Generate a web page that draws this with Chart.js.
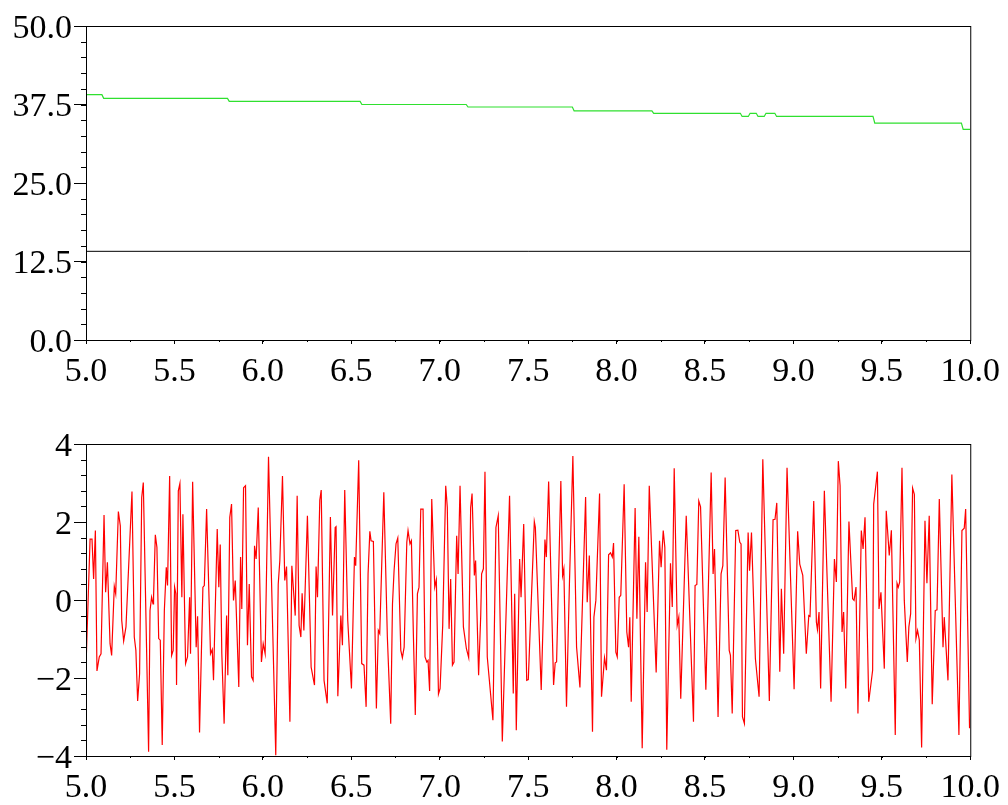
<!DOCTYPE html>
<html>
<head>
<meta charset="utf-8">
<title>Signal plots</title>
<script src="https://cdn.jsdelivr.net/npm/chart.js@4.4.1/dist/chart.umd.min.js"></script>
<style>
  html, body { margin: 0; padding: 0; background: #fff; }
  #wrap { position: relative; width: 1008px; height: 805px; }
  canvas { position: absolute; left: 0; }
  #topChart { top: 0; }
  #bottomChart { top: 400px; }
</style>
</head>
<body>
<div id="wrap">
  <canvas id="topChart" width="1008" height="400"></canvas>
  <canvas id="bottomChart" width="1008" height="405"></canvas>
</div>
<script>
// Top panel: green stepped level and flat black reference line
const levelTime = [5.0, 5.09, 5.10, 5.80, 5.81, 6.55, 6.56, 7.15, 7.16, 7.75, 7.76, 8.20, 8.21,
  8.70, 8.71, 8.745, 8.755, 8.79, 8.80, 8.835, 8.845, 8.895, 8.905, 9.45, 9.46, 9.95, 9.96, 10.0];
const levelValue = [39.06, 39.06, 38.48, 38.48, 38.0, 38.0, 37.5, 37.5, 37.1, 37.1, 36.5, 36.5, 36.1,
  36.1, 35.6, 35.6, 36.1, 36.1, 35.6, 35.6, 36.1, 36.1, 35.6, 35.6, 34.55, 34.55, 33.55, 33.55];
const refTime = [5.0, 10.0];
const refValue = [14.12, 14.12];

// Bottom panel: red oscillating signal
const signalTime = [
  5.000,5.023,5.034,5.043,5.053,5.062,5.075,5.085,5.102,5.111,
  5.121,5.136,5.145,5.160,5.168,5.183,5.194,5.202,5.213,5.226,
  5.260,5.273,5.282,5.292,5.303,5.315,5.324,5.354,5.362,5.371,
  5.379,5.382,5.392,5.401,5.411,5.420,5.431,5.443,5.454,5.461,
  5.473,5.484,5.493,5.501,5.508,5.512,5.522,5.531,5.542,5.548,
  5.563,5.574,5.586,5.591,5.603,5.623,5.631,5.642,5.661,5.669,
  5.682,5.693,5.704,5.714,5.721,5.742,5.751,5.759,5.768,5.781,
  5.795,5.802,5.813,5.823,5.834,5.844,5.864,
  5.874,5.881,5.891,5.902,5.913,5.923,5.936,5.945,5.953,5.962,
  5.974,5.992,6.002,6.013,6.032,6.073,6.087,6.096,6.111,6.124,
  6.134,6.153,6.164,6.183,6.194,6.205,6.215,6.222,6.232,6.252,
  6.273,6.292,6.301,6.309,6.322,6.330,6.346,6.364,6.382,6.394,
  6.409,6.414,6.424,6.441,6.450,6.463,6.480,6.501,6.518,6.525,
  6.542,6.559,6.572,6.584,6.595,6.605,6.612,6.625,6.642,6.653,
  6.661,6.684,
  6.704,6.723,6.733,6.742,6.753,6.763,6.780,6.789,6.799,6.814,
  6.821,6.832,6.840,6.851,6.862,6.874,6.883,6.893,6.906,6.917,
  6.927,6.934,6.943,6.955,6.972,6.981,6.993,7.002,7.017,7.034,
  7.043,7.053,7.062,7.072,7.081,7.096,7.104,7.115,7.134,7.151,
  7.164,7.175,7.183,7.196,7.203,7.220,7.232,7.237,7.247,7.256,
  7.269,7.301,7.318,7.331,7.354,7.395,7.409,7.416,7.424,7.433,
  7.452,7.460,7.475,7.492,7.501,7.535,
  7.541,7.574,7.586,7.595,7.603,7.616,7.644,7.653,7.661,7.685,
  7.695,7.702,7.717,7.734,7.753,7.774,7.793,7.825,7.834,7.846,
  7.864,7.872,7.883,7.904,7.915,7.932,7.943,7.955,7.966,7.976,
  7.983,7.996,8.004,8.015,8.024,8.043,8.058,8.068,8.075,8.083,
  8.105,8.115,8.126,8.145,8.164,8.173,8.185,8.224,8.243,8.252,
  8.264,8.273,8.284,8.305,8.315,8.326,8.343,8.352,8.363,8.394,
  8.435,8.444,8.454,8.465,8.475,8.505,8.535,8.546,8.554,8.574,
  8.591,8.601,8.614,8.637,8.644,8.654,8.674,8.686,8.697,8.704,
  8.712,8.723,8.744,8.752,8.763,8.785,8.806,8.827,8.864,8.885,
  8.896,8.906,8.923,8.932,8.945,8.964,9.004,9.024,9.036,9.053,
  9.073,9.087,9.094,9.115,9.130,9.136,9.145,9.154,9.175,9.213,
  9.232,9.243,9.254,
  9.264,9.275,9.284,9.296,9.314,9.335,9.343,9.354,9.365,9.384,
  9.394,9.405,9.426,9.448,9.454,9.475,9.484,9.495,9.514,9.525,
  9.542,9.554,9.576,9.586,9.593,9.601,9.614,9.627,9.644,9.653,
  9.663,9.674,9.684,9.693,9.702,9.712,9.725,9.744,9.755,9.768,
  9.785,9.802,9.812,9.825,9.846,9.853,9.874,9.896,9.936,9.953,
  9.966,9.974,9.996
];
const signalValue = [
  -1.72,1.56,1.56,0.54,1.78,-1.82,-1.46,-1.38,2.18,0.20,
  0.97,-1.12,-1.42,0.35,0.16,2.27,1.90,-0.52,-1.05,-0.69,
  2.78,-0.95,-1.29,-2.59,-1.89,2.63,3.01,-3.89,-0.27,0.07,
  -0.10,0.07,1.67,1.35,-0.99,-1.03,-3.72,-0.27,0.84,0.37,
  3.18,-1.42,-1.29,0.33,0.16,-2.18,2.80,2.99,0.07,2.20,
  -1.63,-1.46,0.07,-1.38,3.03,-1.21,-0.42,-3.40,0.33,0.37,
  2.33,0.50,-1.38,-1.27,-2.06,1.82,0.33,1.42,-1.38,-3.17,
  -0.40,-1.93,2.12,2.46,-0.01,0.50,-2.23,
  1.10,-0.23,2.88,2.93,-1.16,0.41,-1.97,-2.06,1.39,1.05,
  2.37,-1.59,-1.12,-1.38,3.67,-3.98,0.41,1.01,3.18,0.50,
  0.86,-3.12,0.88,-0.40,2.67,-0.65,-0.95,0.17,-0.78,2.16,
  -1.72,-2.18,0.86,0.07,2.56,2.82,-2.06,-2.65,2.13,-0.40,
  1.86,1.88,-2.47,-0.40,-1.16,2.82,-0.52,-2.27,1.10,0.88,
  3.58,-1.63,-1.67,-2.74,0.67,1.76,1.52,1.50,-2.78,-0.78,
  -0.86,2.76,
  -0.95,-3.17,-0.10,0.75,1.44,1.59,-1.29,-1.48,-1.21,1.48,
  1.78,1.44,1.52,-0.86,-2.95,0.16,0.33,2.33,2.33,-1.46,
  -1.59,-1.55,-2.33,2.59,0.33,0.52,-2.41,-2.27,-0.65,2.93,
  2.37,-0.74,0.54,-1.67,-1.59,1.65,0.67,2.93,-0.69,-1.25,
  -1.48,2.37,2.73,0.63,1.01,-1.93,-0.40,0.67,0.80,3.29,
  -1.46,-3.08,1.86,2.16,-3.63,2.67,-0.65,-2.40,0.16,-3.34,
  1.05,0.07,1.95,-2.06,-2.04,2.01,
  1.86,-2.31,-0.35,1.55,1.10,3.04,-2.18,-1.61,-1.59,3.05,
  0.63,0.80,-2.74,0.50,3.69,-1.21,-2.24,2.64,-0.06,1.14,
  -3.38,-0.44,-0.01,2.73,-2.48,-1.48,-1.80,1.16,1.21,1.10,
  1.46,-1.34,-1.46,0.07,0.12,2.97,-0.82,-1.21,-0.44,-2.61,
  2.36,-0.48,1.62,-3.80,0.97,-0.31,2.93,-1.86,1.52,0.84,
  1.78,1.35,-3.84,0.94,-0.18,3.38,-0.65,-0.44,-2.53,2.16,
  -3.12,0.37,0.40,2.54,2.39,-2.30,3.27,0.67,1.31,-3.00,
  0.67,0.88,3.14,-1.29,-1.42,-2.91,1.78,1.79,1.48,1.44,
  -3.00,-3.17,1.73,0.75,1.73,-1.50,-2.48,3.61,-2.59,2.06,
  2.07,2.49,-1.84,0.29,-1.38,3.39,-2.29,1.76,0.92,0.63,
  -1.38,-0.40,-0.42,2.54,-0.57,-0.76,-0.31,-2.27,2.80,-2.61,
  1.05,0.46,3.56,
  2.93,-0.82,-0.31,-2.27,2.01,0.03,-0.01,0.33,-2.91,1.78,
  1.31,2.12,-2.61,-1.80,2.46,3.29,-0.23,0.20,-1.76,2.29,
  1.14,1.79,-3.46,0.43,0.33,0.46,3.39,-0.01,-1.59,-0.69,
  -0.35,2.87,2.71,-0.99,-0.78,-1.03,-3.78,2.03,0.43,2.16,
  -2.67,-0.27,-0.25,2.59,-1.21,-0.44,-2.06,3.22,-3.46,1.78,
  1.84,2.33,-3.29
];

// Axis ranges and tick steps
const xRange = [5.0, 10.0];
const xMajorStep = 0.5;
const xMinorStep = 0.25;
const topRange = [0, 50];
const topMajorStep = 12.5;
const topMinorStep = 2.5;
const bottomRange = [-4, 4];
const bottomMajorStep = 2;
const bottomMinorStep = 0.4;

const tickFont = { family: "'Liberation Serif', 'Times New Roman', serif", size: 34 };

function toPoints(xs, ys) {
  return xs.map((x, i) => ({ x: x, y: ys[i] }));
}

// Draws the box round the plot and the short minor ticks
const framePlugin = {
  id: "frame",
  afterDraw(chart, args, opts) {
    const ctx = chart.ctx;
    const area = chart.chartArea;
    ctx.save();
    ctx.strokeStyle = "#000";
    ctx.lineWidth = 1;
    ctx.strokeRect(area.left + 0.5, area.top + 0.5, area.right - area.left, area.bottom - area.top);

    const xs = chart.scales.x;
    const ys = chart.scales.y;
    ctx.beginPath();
    for (let v = xs.min; v <= xs.max + 1e-9; v += opts.xMinor) {
      const px = Math.round(xs.getPixelForValue(v)) + 0.5;
      ctx.moveTo(px, area.bottom);
      ctx.lineTo(px, area.bottom + 2);
    }
    for (let v = ys.min; v <= ys.max + 1e-9; v += opts.yMinor) {
      const py = Math.round(ys.getPixelForValue(v)) + 0.5;
      ctx.moveTo(area.left - 5, py);
      ctx.lineTo(area.left, py);
    }
    ctx.stroke();
    ctx.restore();
  },
};

function makeChart(id, datasets, yRange, yStep, yMinor, yLabel, padTop, xHeight) {
  const ctx = document.getElementById(id).getContext("2d");
  return new Chart(ctx, {
    type: "line",
    data: { datasets: datasets },
    plugins: [framePlugin],
    options: {
      responsive: false,
      animation: false,
      devicePixelRatio: 1,
      layout: { padding: { top: padTop, right: 36, left: 0, bottom: 0 } },
      plugins: {
        legend: { display: false },
        tooltip: { enabled: false },
        frame: { xMinor: xMinorStep, yMinor: yMinor },
      },
      elements: { point: { radius: 0 }, line: { tension: 0, borderWidth: 1.2 } },
      scales: {
        x: {
          type: "linear",
          min: xRange[0],
          max: xRange[1],
          border: { display: true, color: "#000", width: 1 },
          grid: { display: true, drawOnChartArea: false, drawTicks: true, tickLength: 4, color: "#000" },
          ticks: {
            stepSize: xMajorStep,
            autoSkip: false,
            maxRotation: 0,
            padding: 8,
            color: "#000",
            font: tickFont,
            callback: (v) => v.toFixed(1),
          },
          afterFit: (scale) => { scale.height = xHeight; },
        },
        y: {
          type: "linear",
          min: yRange[0],
          max: yRange[1],
          border: { display: true, color: "#000", width: 1 },
          grid: { display: true, drawOnChartArea: false, drawTicks: true, tickLength: 12, color: "#000" },
          ticks: {
            stepSize: yStep,
            padding: 2,
            labelOffset: 3,
            color: "#000",
            font: tickFont,
            callback: yLabel,
          },
          afterFit: (scale) => { scale.width = 86; },
        },
      },
    },
  });
}

document.addEventListener("DOMContentLoaded", function () {
  makeChart(
    "topChart",
    [
      { data: toPoints(levelTime, levelValue), borderColor: "#2fe02f", fill: false },
      { data: toPoints(refTime, refValue), borderColor: "#000000", fill: false, borderWidth: 1 },
    ],
    topRange, topMajorStep, topMinorStep,
    (v) => v.toFixed(1),
    26, 60
  );

  makeChart(
    "bottomChart",
    [{ data: toPoints(signalTime, signalValue), borderColor: "#ff0000", fill: false }],
    bottomRange, bottomMajorStep, bottomMinorStep,
    (v) => (v < 0 ? "\u2212" + Math.abs(v) : String(v)),
    44, 49
  );
});
</script>
</body>
</html>
